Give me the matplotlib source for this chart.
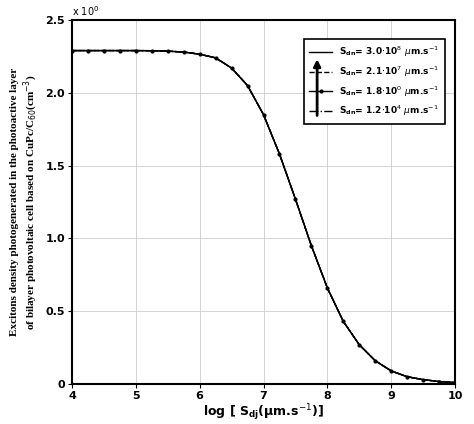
import matplotlib.pyplot as plt
import numpy as np

log_s = [4.0, 4.25, 4.5, 4.75, 5.0, 5.25, 5.5, 5.75, 6.0, 6.25, 6.5, 6.75, 7.0, 7.25,
         7.5, 7.75, 8.0, 8.25, 8.5, 8.75, 9.0, 9.25, 9.5, 9.75, 10.0]
density = [2.29, 2.29, 2.29, 2.29, 2.29, 2.289, 2.286, 2.28, 2.265, 2.24, 2.17, 2.05,
           1.85, 1.58, 1.27, 0.95, 0.66, 0.43, 0.27, 0.16, 0.09, 0.05, 0.03, 0.017, 0.01]
labels = [r"S$_{\mathbf{dn}}$= 3.0$\cdot$10$^{8}$ $\mu$m.s$^{-1}$",
          r"S$_{\mathbf{dn}}$= 2.1$\cdot$10$^{7}$ $\mu$m.s$^{-1}$",
          r"S$_{\mathbf{dn}}$= 1.8$\cdot$10$^{0}$ $\mu$m.s$^{-1}$",
          r"S$_{\mathbf{dn}}$= 1.2$\cdot$10$^{4}$ $\mu$m.s$^{-1}$"]
styles = [dict(ls="-"), dict(ls="--"), dict(ls="-", marker="o", ms=2), dict(ls="-.")]

fig = plt.figure(figsize=(4.74, 4.24), dpi=100)
ax = fig.add_axes([72 / 474, 40 / 424, 383 / 474, 364 / 424])
for lab, st in zip(labels, styles):
    ax.plot(log_s, density, color="black", lw=1.0, label=lab, **st)

ax.set_xlim(4, 10)
ax.set_ylim(0, 2.5)
ax.set_xticks(range(4, 11))
ax.set_yticks([0, 0.5, 1.0, 1.5, 2.0, 2.5])
ax.set_yticklabels(["0", "0.5", "1.0", "1.5", "2.0", "2.5"])
ax.tick_params(labelsize=8, length=3, pad=2)
for t in ax.get_xticklabels() + ax.get_yticklabels():
    t.set_fontweight("bold")
ax.grid(True, color="#cccccc", lw=0.6)
for sp in ax.spines.values():
    sp.set_linewidth(1.5)
ax.text(0, 1.005, r"x 10$^{0}$", transform=ax.transAxes, fontsize=7, va="bottom")

ax.set_xlabel(r"log [ S$_{\mathbf{dj}}$($\mathbf{\mu}$m.s$^{-1}$)]", fontsize=9,
              fontweight="bold", labelpad=1)
ax.set_ylabel("Excitons density photogenerated in the photoactive layer\n"
              r"of bilayer photovoltaic cell based on CuPc/C$_{60}$(cm$^{-3}$)",
              fontsize=8, fontweight="bold", family="Liberation Serif")

leg = ax.legend(loc="upper right", bbox_to_anchor=(0.985, 0.96), fontsize=6.5,
                frameon=True, fancybox=False, edgecolor="black", handlelength=2.5,
                borderpad=0.6, labelspacing=0.6, framealpha=1)
leg.get_frame().set_linewidth(1.2)
for t in leg.get_texts():
    t.set_fontweight("bold")
arrow = ax.annotate("", xy=(0.64, 0.9), xytext=(0.64, 0.73), xycoords="axes fraction",
                    arrowprops=dict(arrowstyle="-|>", color="black", lw=2))
arrow.set_zorder(10)

plt.savefig("out.png", dpi=100)
plt.close()
